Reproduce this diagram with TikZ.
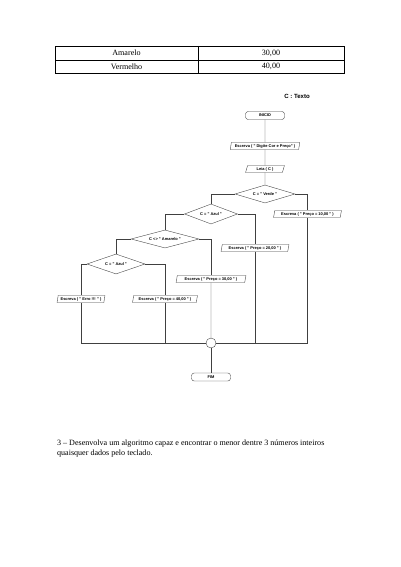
\documentclass[tikz,border=0pt]{standalone}
\usepackage{fontspec}
\setmainfont{Liberation Serif}
\newfontfamily\chartfont{Liberation Sans}
\usetikzlibrary{shapes.geometric}
\newcommand\pxl{1.4875pt}

\begin{document}
\begin{tikzpicture}[x=1.4875pt,y=-1.4875pt,
  line/.style={draw=black!75,line width=.55pt},
  tab/.style={draw=black,line width=.7pt},
  txt/.style={font=\fontsize{12}{14}\selectfont,inner sep=0pt},
  term/.style={line,rounded corners=4pt,minimum width=39*\pxl,
    minimum height=8*\pxl,inner sep=0pt,
    font=\chartfont\bfseries\fontsize{5.9}{6}\selectfont},
  io/.style={line,trapezium,trapezium left angle=75,trapezium right angle=105,
    trapezium stretches=true,minimum height=7*\pxl,inner sep=0pt,
    font=\chartfont\bfseries\fontsize{5.9}{6}\selectfont},
  test/.style={line,diamond,aspect=3,inner sep=0pt,
    font=\chartfont\bfseries\fontsize{5.9}{6}\selectfont},
  junc/.style={line,circle,fill=white,minimum size=10*\pxl,inner sep=0pt}]
\path[fill=white,use as bounding box] (0,0) rectangle (400,567);
% tabela de precos
\draw[tab] (55,46) rectangle (344,73);
\draw[tab] (55,60) -- (344,60);
\draw[tab] (198,46) -- (198,73);
\node[txt] (amarelo) at (126.5,53) {Amarelo};
\node[txt] (pamarelo) at (271,53) {30,00};
\node[txt] (vermelho) at (126.5,66.5) {Vermelho};
\node[txt] (pvermelho) at (271,66.5) {40,00};
% fluxograma
\node[font=\chartfont\bfseries\fontsize{9}{10}\selectfont] (tipo) at (297,96) {C : Texto};
\node[term] (ini) at (265,115.5) {INICIO};
\node[io,minimum width=70*\pxl] (dig) at (265,146) {Escreva ( " Digite Cor e Preço" )};
\node[io,minimum width=39*\pxl] (leia) at (265,169) {Leia ( C )};
\node[test,minimum width=60*\pxl,minimum height=18*\pxl] (verde) at (265,194) {C = " Verde "};
\node[io,minimum width=68*\pxl] (p10) at (307.5,214) {Escreva ( " Preço = 10,00 " )};
\node[test,minimum width=53*\pxl,minimum height=20*\pxl] (azulA) at (211,214) {C = " Azul "};
\node[io,minimum width=68*\pxl] (p20) at (255,248) {Escreva ( " Preço = 20,00 " )};
\node[test,minimum width=68*\pxl,minimum height=18*\pxl] (amar) at (165,239) {C <> " Amarelo "};
\node[io,minimum width=70*\pxl] (p30) at (211,279) {Escreva ( " Preço = 30,00 " )};
\node[test,minimum width=58*\pxl,minimum height=20*\pxl] (azulB) at (116,264) {C = " Azul "};
\node[io,minimum width=48*\pxl] (erro) at (81,299) {Escreva ( " Erro !!! " )};
\node[io,minimum width=65*\pxl] (p40) at (165,299) {Escreva ( " Preço = 40,00 " )};
\node[junc] (jun) at (211,343) {};
\node[term] (fim) at (211,377) {FIM};
\draw[line] (ini) -- (dig);
\draw[line] (dig) -- (leia);
\draw[line] (leia) -- (verde);
\draw[line] (verde.west) -| (azulA.north);
\draw[line] (verde.east) -| (p10.north);
\draw[line] (azulA.west) -| (amar.north);
\draw[line] (azulA.east) -| (p20.north);
\draw[line] (amar.west) -| (azulB.north);
\draw[line] (amar.east) -| (p30.north);
\draw[line] (azulB.west) -| (erro.north);
\draw[line] (azulB.east) -| (p40.north);
\foreach \b in {erro,p40,p20,p10}
  \draw[line] (\b.south) -- (\b.south |- jun);
\draw[line] (erro.south |- jun) -- (jun.west);
\draw[line] (jun.east) -- (p10.south |- jun);
\draw[line] (p30) -- (jun);
\draw[line] (jun) -- (fim);
% enunciado
\node[txt,anchor=base west] (quest1) at (57,445)
  {3 – Desenvolva um algoritmo capaz e encontrar o menor dentre 3 números inteiros};
\node[txt,anchor=base west] (quest2) at (57,455) {quaisquer dados pelo teclado.};
\end{tikzpicture}
\end{document}
